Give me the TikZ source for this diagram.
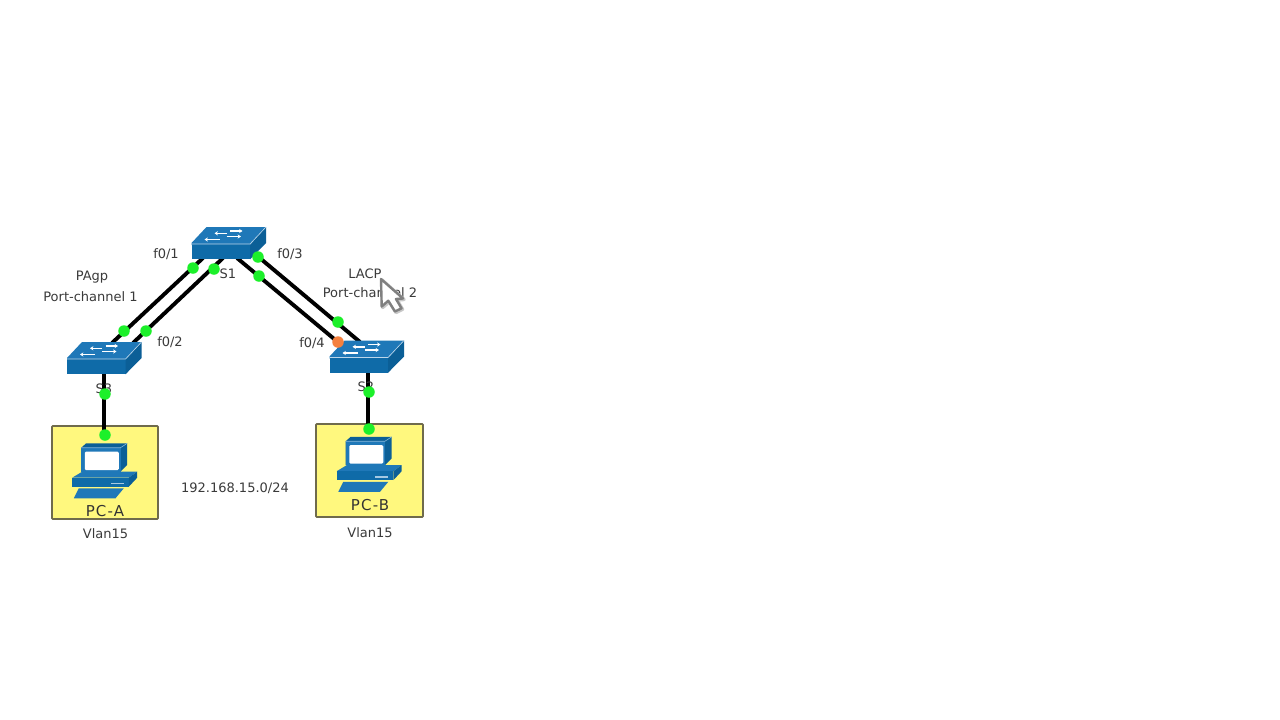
\documentclass[tikz,border=0pt]{standalone}
\usepackage{fontspec}
\setmainfont{DejaVu Sans}
\usetikzlibrary{arrows.meta}
\definecolor{swtop}{HTML}{1F78B8}
\definecolor{swfront}{HTML}{0F6BA8}
\definecolor{swside}{HTML}{0B5F97}
\definecolor{ledgreen}{HTML}{1CF02A}
\definecolor{ledorange}{HTML}{F5803E}
\definecolor{pcfill}{HTML}{FFF87E}
\definecolor{pcedge}{HTML}{6F6B4C}
\definecolor{lbl}{HTML}{3A3A3A}
\newcommand{\drawswitch}{%
    \fill[swtop] (-37,0) -- (-22,-16) -- (37.5,-16) -- (21.5,2) -- (-37,2) -- cycle;
    \fill[swfront] (-37,1) -- (21.5,1) -- (21.5,16.3) -- (-37,16.3) -- cycle;
    \fill[swside] (21.5,2) -- (37.5,-16) -- (37.5,0) -- (21.5,16.3) -- cycle;
    \draw[white!70!swtop,line width=.6pt] (-37,1) -- (21.5,1) -- (37.5,-16);
    \draw[sarrow] (-1.8,-9.7) -- (-14,-9.7);
    \draw[sarrow] (1.5,-12) -- (14,-12);
    \draw[sarrow] (-1.8,-6.5) -- (12.5,-6.5);
    \draw[sarrow] (-9,-3.5) -- (-24,-3.5);
}
\newcommand{\drawpc}{%
    \fill[swside] (-18.8,-27.2) -- (22.2,-27.2) -- (22.2,-5.5) -- (15.5,1.2) -- (-23.8,1.2) -- (-23.8,-22.8) -- cycle;
    \fill[swtop] (-23.8,-22.8) rectangle (15.5,1.2);
    \draw[white!45!swtop,line width=.6pt] (-23.8,-22.8) -- (15.5,-22.8) -- (22.2,-27.2);
    \fill[white,rounded corners=1.2pt] (-20.2,-18.8) rectangle (13.8,-0.5);
    \fill[swtop] (-22.8,1.2) -- (32.2,1.2) -- (23.8,7.2) -- (-32.8,7.2) -- cycle;
    \fill[swfront] (-32.8,7.2) rectangle (23.8,16.2);
    \fill[swside] (32.2,1.2) -- (32.2,7.2) -- (23.8,16.2) -- (23.8,7.2) -- cycle;
    \fill[white!60!swtop] (5.5,12.2) rectangle (18.8,13.8);
    \fill[swtop] (-26.2,17.8) -- (18.8,17.8) -- (10.5,27.8) -- (-31.2,27.8) -- cycle;
}
\tikzset{
  x=1pt,y=-1pt,
  link/.style={line width=3.9pt,black},
  led/.style={circle,fill=ledgreen,inner sep=0pt,minimum size=11.5pt},
  ledo/.style={circle,fill=ledorange,inner sep=0pt,minimum size=11.5pt},
  lab/.style={font=\fontsize{13}{15}\selectfont,text=lbl,inner sep=0pt},
  pclab/.style={font=\fontsize{15}{17}\selectfont\addfontfeature{LetterSpace=8},text=black!80,inner sep=0pt},
  pcbox/.style={draw=pcedge,line width=1.6pt,fill=pcfill,rounded corners=0.8pt},
  anchorbox/.style={inner sep=0pt,minimum width=74pt,minimum height=32pt},
  sarrow/.style={white,line width=1.4pt,-{Stealth[length=3.4pt,width=4.2pt]}},
}
\begin{document}
\begin{tikzpicture}
\useasboundingbox (0,0) rectangle (1280,720);
\fill[white] (0,0) rectangle (1280,720);

% PC boxes
\node[pcbox,minimum width=106pt,minimum height=93pt,inner sep=0pt] (pca) at (105,472.5) {};
\node[pcbox,minimum width=107pt,minimum height=93pt,inner sep=0pt] (pcb) at (369.5,470.5) {};

% device anchors
\node[anchorbox] (s1) at (228.5,243) {};
\node[anchorbox] (s2) at (366.5,356.5) {};
\node[anchorbox] (s3) at (104,358) {};

% port points on the devices
\coordinate (s1a) at (203,258);
\coordinate (s3a) at (112,343);
\coordinate (s1b) at (223,258);
\coordinate (s3b) at (133,343);
\coordinate (s1c) at (255,254);
\coordinate (s2c) at (360,342);
\coordinate (s1d) at (237,258);
\coordinate (s2d) at (345,348);
\coordinate (s3e) at (104,370);
\coordinate (pcae) at (104,437);
\coordinate (s2e) at (368,368);
\coordinate (pcbe) at (368,431);

% connectors
\draw[link] (s1a) -- (s3a);
\draw[link] (s1b) -- (s3b);
\draw[link] (s1c) -- (s2c);
\draw[link] (s1d) -- (s2d);
\draw[link] (s3e) -- (pcae);
\draw[link] (s2e) -- (pcbe);

% icons
\begin{scope}[shift={(228.5,243)}]\drawswitch\end{scope}
\begin{scope}[shift={(366.5,356.5)}]\drawswitch\end{scope}
\begin{scope}[shift={(104,358)}]\drawswitch\end{scope}
\begin{scope}[shift={(105,470.5)}]\drawpc\end{scope}
\begin{scope}[shift={(369.5,464)}]\drawpc\end{scope}

% device labels
\node[lab] (ls1) at (228,273.5) {S1};
\node[lab] (ls2) at (366,386.5) {S2};
\node[lab] (ls3) at (104,388.5) {S3};

% link lights
\node[led] (l1) at (193,268) {};
\node[led] (l2) at (214,269) {};
\node[led] (l3) at (124,331) {};
\node[led] (l4) at (146,331) {};
\node[led] (l5) at (258,257) {};
\node[led] (l6) at (259,276) {};
\node[led] (l7) at (338,322) {};
\node[ledo] (l8) at (338,342) {};
\node[led] (l9) at (105,394) {};
\node[led] (l10) at (105,435) {};
\node[led] (l11) at (369,392) {};
\node[led] (l12) at (369,429) {};

% labels
\node[lab] (f01) at (166,254) {f0/1};
\node[lab] (f02) at (170,342) {f0/2};
\node[lab] (f03) at (290,254) {f0/3};
\node[lab] (f04) at (312,343) {f0/4};
\node[lab] (pagp) at (92,277.5) {PAgp};
\node[lab] (pc1) at (90.5,296.5) {Port-channel 1};
\node[lab] (lacp) at (365,273.5) {LACP};
\node[lab] (pc2) at (370,293) {Port-channel 2};
\node[lab] (net) at (235,488) {192.168.15.0/24};
\node[lab] (va) at (105.5,533.5) {Vlan15};
\node[lab] (vb) at (370,532.5) {Vlan15};
\node[pclab] (na) at (105,511) {PC-A};
\node[pclab] (nb) at (370,505) {PC-B};

% mouse pointer
\draw[line width=3.4pt,black!22,line join=round]
  (382,280) -- (382.7,307.5) -- (389.3,301.7) -- (396,312.5) -- (402.5,309.3) -- (397,300) -- (404,299.5) -- cycle;
\draw[line width=2.4pt,black!50,fill=white,line join=round]
  (381,279) -- (381.7,306.5) -- (388.3,300.7) -- (395,311.5) -- (401.5,308.3) -- (396,299) -- (403,298.5) -- cycle;
\end{tikzpicture}
\end{document}
